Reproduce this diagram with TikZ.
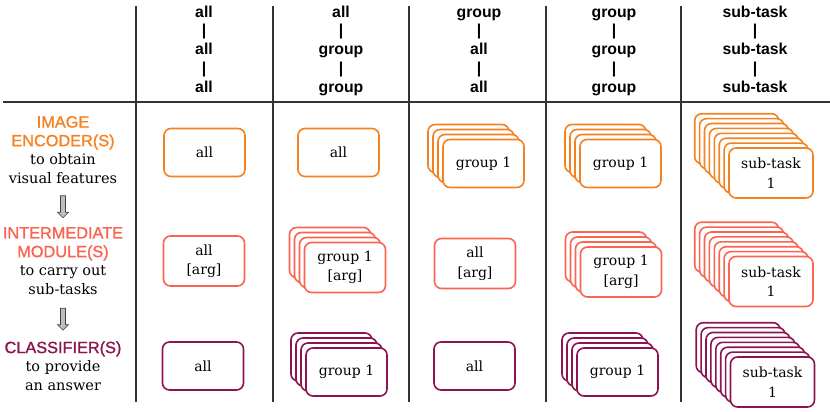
\documentclass[tikz,border=0pt]{standalone}
\usepackage{fontspec}
\setmainfont{DejaVu Serif}
\setsansfont{Liberation Sans}
\newfontfamily\tagfamily{Liberation Sans}[FakeBold=1.2]
\usetikzlibrary{shapes.arrows,calc}

% stage colours
\definecolor{encorange}{RGB}{245,130,32}
\definecolor{midcoral}{RGB}{250,100,80}
\definecolor{clsmaroon}{RGB}{140,20,80}

\newcommand{\headfont}{\sffamily\bfseries\fontsize{15.8}{18.75}\selectfont}
\newcommand{\tagfont}{\tagfamily\fontsize{16.3}{18.7}\selectfont}
\newcommand{\bodyfont}{\fontsize{14.5}{18.7}\selectfont}
\newcommand{\unitfont}{\fontsize{14}{19.5}\selectfont}
% three levels joined by bars, with struts so that every column sits alike
\newcommand{\chain}[3]{\strut#1\\|\\#2\\|\\#3\strut}

\tikzset{
  grid/.style={line width=1.2pt, black!80},
  head/.style={align=center, font=\headfont},
  stage/.style={align=center, font=\bodyfont},
  unit/.style={draw=#1, line width=1.6pt, rounded corners=7pt, fill=white,
    minimum width=81pt, minimum height=48pt, inner sep=2pt, align=center, font=\unitfont},
  wideunit/.style={unit=#1, minimum width=84pt, minimum height=50pt},
  downarrow/.style={single arrow, rotate=-90, draw=black!75, fill=black!25, line width=0.6pt,
    minimum height=22pt, minimum width=10pt, inner xsep=0pt, inner ysep=2.2pt,
    single arrow head extend=3pt, single arrow head indent=0pt}
}

\begin{document}
\begin{tikzpicture}[x=1pt, y=-1pt]
\useasboundingbox (0,0) rectangle (830,412);

% Grid
\draw[grid] (3,102) -- (830,102);
\foreach \x in {136,273,409,546,681}
  \draw[grid] (\x,6) -- (\x,402);

% Column headers
\node[head] (h1) at (204,51) {\chain{all}{all}{all}};
\node[head] (h2) at (341,51) {\chain{all}{group}{group}};
\node[head] (h3) at (479,51) {\chain{group}{all}{all}};
\node[head] (h4) at (614,51) {\chain{group}{group}{group}};
\node[head] (h5) at (755,51) {\chain{sub-task}{sub-task}{sub-task}};

% Stage labels
\node[stage] (enc) at (63,150) {{\tagfont\color{encorange}IMAGE}\\{\tagfont\color{encorange}ENCODER(S)}\\to obtain\\visual features};
\node[stage] (mid) at (63,261) {{\tagfont\color{midcoral}INTERMEDIATE}\\{\tagfont\color{midcoral}MODULE(S)}\\to carry out\\sub-tasks};
\node[stage] (cls) at (63,366) {{\tagfont\color{clsmaroon}CLASSIFIER(S)}\\to provide\\an answer};
\node[downarrow] (arr1) at ($(enc.south)!0.5!(mid.north)$) {};
\node[downarrow] (arr2) at ($(mid.south)!0.5!(cls.north)$) {};

% Row 1: image encoders
\node[unit=encorange] (enc1) at (204.5,152.5) {all};
\node[unit=encorange] (enc2) at (338.5,152.5) {all};
\foreach \k in {3,2,1}
  \node[unit=encorange] (enc3-\k) at (483.5-5*\k,163.5-5*\k) {};
\node[unit=encorange] (enc3) at (483.5,163.5) {group 1};
\foreach \k in {3,2,1}
  \node[unit=encorange] (enc4-\k) at (620.5-5*\k,163.5-5*\k) {};
\node[unit=encorange] (enc4) at (620.5,163.5) {group 1};
\foreach \k in {7,...,1}
  \node[wideunit=encorange] (enc5-\k) at (771-4.9*\k,173-4.9*\k) {};
\node[wideunit=encorange] (enc5) at (771,173) {sub-task\\1};

% Row 2: intermediate modules
\node[unit=midcoral, minimum height=50pt] (mid1) at (204,261) {all\\{[arg]}};
\foreach \k in {3,2,1}
  \node[unit=midcoral, minimum height=50pt] (mid2-\k) at (345-5*\k,267.5-5*\k) {};
\node[unit=midcoral, minimum height=50pt] (mid2) at (345,267.5) {group 1\\{[arg]}};
\node[unit=midcoral, minimum height=50pt] (mid3) at (475,263.5) {all\\{[arg]}};
\foreach \k in {3,2,1}
  \node[unit=midcoral, minimum height=50pt] (mid4-\k) at (621-5*\k,272-5*\k) {};
\node[unit=midcoral, minimum height=50pt] (mid4) at (621,272) {group 1\\{[arg]}};
\foreach \k in {7,...,1}
  \node[wideunit=midcoral] (mid5-\k) at (771-4.9*\k,281.5-4.9*\k) {};
\node[wideunit=midcoral] (mid5) at (771,281.5) {sub-task\\1};

% Row 3: classifiers
\node[unit=clsmaroon] (cls1) at (203,366) {all};
\foreach \k in {3,2,1}
  \node[unit=clsmaroon] (cls2-\k) at (346.5-5*\k,372-5*\k) {};
\node[unit=clsmaroon] (cls2) at (346.5,372) {group 1};
\node[unit=clsmaroon] (cls3) at (474.5,366) {all};
\foreach \k in {3,2,1}
  \node[unit=clsmaroon] (cls4-\k) at (617.5-5*\k,372-5*\k) {};
\node[unit=clsmaroon] (cls4) at (617.5,372) {group 1};
\foreach \k in {7,...,1}
  \node[wideunit=clsmaroon] (cls5-\k) at (772.5-4.9*\k,382-4.9*\k) {};
\node[wideunit=clsmaroon] (cls5) at (772.5,382) {sub-task\\1};

\end{tikzpicture}
\end{document}
